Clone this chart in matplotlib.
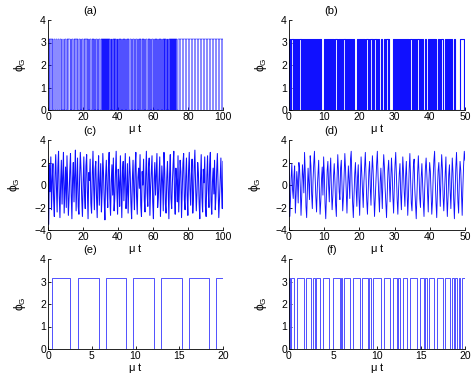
import numpy as np
import matplotlib
matplotlib.use('Agg')
import matplotlib.pyplot as plt

plt.rcParams['font.family'] = ['Liberation Sans', 'DejaVu Sans']
plt.rcParams['mathtext.fontset'] = 'custom'
plt.rcParams['mathtext.rm'] = 'Liberation Sans'
plt.rcParams['mathtext.it'] = 'Liberation Sans'

PI = np.pi

# (a) high pulses (start, end), mu*t in [0, 100]
a_pulses = [
    (0.3, 0.9), (1.2, 2.0), (2.4, 3.1), (3.3, 4.2), (4.6, 5.1), (5.5, 6.4), (6.7, 7.2), (7.8, 8.1),
    (8.9, 9.2), (9.6, 10.3), (10.7, 11.4), (11.6, 12.3), (12.9, 13.2), (13.8, 14.1), (14.9, 15.2),
    (15.6, 16.4), (16.8, 17.3), (17.5, 18.2), (18.8, 19.1), (19.7, 20.0), (20.6, 21.1), (21.4, 22.0),
    (22.3, 22.9), (23.2, 23.7), (24.1, 24.6), (24.9, 25.5), (25.8, 26.2), (26.7, 27.0), (27.6, 27.9),
    (28.3, 28.8), (29.1, 29.5),
    (30.0, 30.2), (30.5, 30.8), (31.0, 31.4), (31.6, 31.9), (32.2, 32.4), (32.8, 33.0), (33.3, 33.5),
    (33.9, 34.1), (34.4, 34.6), (34.9, 35.2), (35.4, 35.7), (35.9, 36.2), (36.4, 36.7), (36.9, 37.2),
    (37.4, 37.7), (37.9, 38.1), (38.4, 38.6), (38.9, 39.1), (39.3, 39.6), (39.8, 40.1), (40.3, 40.5),
    (40.8, 41.0), (41.2, 41.5), (41.7, 41.9), (42.2, 42.4), (42.6, 42.9), (43.1, 43.3), (43.5, 43.8),
    (44.0, 44.2), (44.4, 44.7), (44.9, 45.1), (45.3, 45.5), (45.8, 46.0), (46.2, 46.4), (46.6, 46.8),
    (47.0, 47.2), (47.4, 47.6), (47.8, 48.0),
    (48.5, 48.9), (49.5, 49.8), (50.3, 50.6), (51.2, 51.5), (51.9, 52.4), (52.7, 53.3), (53.6, 54.0),
    (54.5, 54.8), (55.4, 55.7), (56.1, 56.6), (56.9, 57.5), (57.8, 58.2), (58.7, 59.0), (59.6, 59.9),
    (60.3, 60.8), (61.1, 61.6), (61.9, 62.3), (62.7, 63.0), (63.5, 63.8), (64.2, 64.6), (64.9, 65.3),
    (65.6, 66.0), (66.4, 66.7), (67.1, 67.4), (67.8, 68.1), (68.5, 68.8), (69.1, 69.5), (69.8, 70.1),
    (70.4, 70.7), (71.0, 71.3), (71.6, 71.9), (72.2, 72.5), (72.8, 73.1), (73.4, 73.6),
    (74.0, 75.4), (75.7, 77.1), (77.4, 78.8), (79.1, 80.5), (80.8, 82.2), (82.5, 83.9), (84.2, 85.6),
    (85.9, 87.3), (87.6, 89.0), (89.3, 90.7), (91.0, 92.4), (92.7, 94.1), (94.4, 95.8), (96.1, 97.5),
    (97.8, 99.2), (99.5, 101.0),
]

# (b) high pulses, mu*t in [0, 50]
b_pulses = [
    (0.1, 0.3), (0.6, 1.0), (1.2, 1.4), (1.7, 2.1), (2.3, 2.5), (2.8, 3.3), (3.5, 3.7), (4.0, 4.3),
    (4.6, 4.8), (5.0, 5.5), (5.7, 5.9), (6.2, 6.5), (6.8, 7.0), (7.3, 7.7), (7.9, 8.1), (8.4, 8.7),
    (8.9, 9.2), (9.9, 10.2), (10.5, 10.7), (11.0, 11.4), (11.6, 11.8), (12.1, 12.5), (12.7, 12.9),
    (13.2, 13.6), (13.8, 14.0), (14.3, 14.6), (14.9, 15.1), (15.4, 15.8), (16.0, 16.2), (16.5, 16.9),
    (17.1, 17.3), (17.6, 18.0), (18.2, 18.4), (19.3, 19.6), (19.8, 20.2), (20.4, 20.6), (20.9, 21.3),
    (21.5, 21.7), (22.0, 22.4), (22.6, 22.8), (23.1, 23.5), (23.7, 23.9), (24.2, 24.6), (24.8, 25.0),
    (25.3, 25.7), (26.2, 26.5), (27.0, 27.3), (27.6, 28.0), (28.2, 28.4), (29.6, 29.9), (30.1, 30.5),
    (30.7, 30.9), (31.2, 31.6), (31.8, 32.0), (32.3, 32.7), (32.9, 33.1), (33.4, 33.8), (34.0, 34.2),
    (34.5, 34.9), (35.1, 35.4), (35.9, 36.2), (36.5, 36.9), (37.1, 37.4), (37.7, 38.0), (38.6, 38.8),
    (39.5, 39.8), (40.0, 40.4), (40.6, 40.8), (41.1, 41.5), (41.7, 41.9), (42.2, 42.6), (42.8, 43.0),
    (43.3, 43.7), (44.2, 44.5), (44.9, 45.3), (45.5, 45.7), (46.0, 46.3), (47.0, 47.2), (48.7, 49.6),
]

# (c) phi_G samples over mu*t in [0, 100]
c_vals = [
    2.3, -3.5, 1.8, -0.6, 2.5, -2.2, 0.4, 1.9, -1.3, -2.8, 0.9, 2.7, -0.2, -2.4, 1.5, 3.0, -1.0, -2.9, 0.3, 2.2, -1.7, 0.8, 2.9, -2.5, -0.4,
    1.6, -2.0, 2.6, 0.1, -2.7, -1.1, 1.2, 2.8, -0.8, -3.0, 0.6, 2.0, -1.5, 1.0, 3.1, -2.3, -0.1, 2.4, -1.9, -2.6, 0.7, 2.9, 1.3, -1.2, -2.8,
    0.2, 2.5, -0.9, -2.1, 1.7, 2.7, -0.5, -3.0, 1.1, 0.4, 2.3, -1.6, -2.5, 0.9, 3.0, -0.3, -2.2, 1.4, 2.1, -1.0, -2.9, 0.5, 2.6, -1.8, 0.0,
    1.9, -2.4, -0.7, 2.8, 1.0, -1.4, -3.1, 0.8, 2.2, -0.4, -2.0, 1.6, 2.9, -1.1, -2.7, 0.3, 1.8, -0.9, 2.4, -2.3, -1.2, 1.1, 3.0, -0.6, -2.6,
    1.4, 0.2, -1.9, 2.6, -0.2, -2.9, 1.3, 2.1, -1.4, 0.6, 2.8, -2.1, -0.8, 1.9, -2.5, 0.1, 2.5, 1.0, -1.6, -3.0, 0.4, 2.2, -0.5, -2.2, 1.7,
    2.9, -1.0, -2.6, 0.7, 1.5, -0.3, 2.7, -1.8, -2.8, 1.2, 0.0, 2.3, -1.3, -2.4, 0.9, 3.0, -0.7, -1.9, 1.6, 2.4, -2.7, -0.2, 1.3, 2.6, -1.5,
    -3.0, 0.5, 2.0, -0.9, 1.1, 2.8, -2.0, -1.1, 0.8, 2.5, -2.8, -0.5, 1.7, 0.3, -2.3, 2.9, 1.4, -1.7, -2.5, 0.6, 2.1, -0.4, -3.0, 1.0, 2.7,
    -1.2, -2.1, 0.2, 1.8, 3.0, -0.8, -2.6, 1.5, 0.4, -1.5, 2.6, -2.4, -0.1, 2.2, 1.2, -2.9, -0.6, 1.9, 2.8, -1.3, -2.2, 0.7, 2.4, -0.9, -2.7,
    1.3, 2.9, -0.3, -1.8, 0.9, 2.3, -2.5, -1.0, 1.6, 3.1, 0.0, -2.3, -0.7, 2.0, 1.1, -1.6, -3.0, 0.5, 2.7, -1.1, -2.4, 1.4, 0.2, 2.5, -1.9,
    -2.8, 0.8, 2.6, -0.5, -2.0, 1.8, 2.9, -1.4, -2.6, 0.3, 1.5, -0.8, 2.2, -2.2, -1.0, 1.2, 2.8, 0.1, -2.9, -1.3, 0.7, 2.4, -0.6, -2.1, 2.1,
]

# (d) phi_G samples over mu*t in [0, 50]
d_vals = [
    2.3, -2.8, -1.5, 0.6, 1.9, -0.4, -1.2, 0.8, 1.7, -2.5, -0.9, 1.2, 0.3, -1.6, 2.0, 1.4, -0.2, -2.7, -1.0, 1.8, 0.9, -0.7, 2.9, 1.1, -1.9,
    -2.9, -0.5, 1.5, 0.2, -1.3, 2.6, 1.7, -0.8, -2.1, 0.4, 1.9, 3.0, 0.7, -1.1, -2.4, -0.3, 1.0, 2.2, -0.6, -2.6, -1.4, 0.5, 1.6, -0.9, 2.5,
    0.9, -1.7, -3.0, -0.8, 1.3, 2.1, 0.0, -1.5, 1.1, 2.4, -0.4, -2.2, -1.0, 0.8, 1.9, 0.3, -1.8, -2.8, 0.6, 2.7, 1.2, -0.6, -1.3, 1.5, 2.2,
    -0.1, -2.3, -1.1, 0.9, 2.8, 1.4, -0.7, -2.5, -0.2, 1.7, 0.4, -1.2, 2.3, 3.0, 0.5, -1.6, -2.9, -0.9, 1.0, 2.0, -0.3, -1.9, 0.7, 1.8, -1.1,
    -2.7, 0.1, 2.5, 1.0, -0.5, -2.0, 0.3, 1.6, 2.9, 0.6, -1.4, -2.6, -0.6, 1.2, 2.1, -0.2, -1.8, 0.9, 2.6, 1.3, -0.9, -2.8, -1.2, 0.5, 1.9,
    3.0, 0.8, -1.0, -2.4, 0.2, 1.5, -0.4, -2.1, 1.1, 2.7, 1.6, -0.3, -1.7, -2.9, -0.7, 1.3, 2.2, 0.4, -1.5, 0.6, 2.4, 1.0, -1.1, -2.5, -0.1,
    1.8, 2.9, 0.7, -1.3, -2.6, -0.5, 1.0, 1.9, -0.8, -2.2, 0.3, 2.5, 1.2, -0.6, -1.9, 0.8, 2.1, -0.2, -2.7, -1.0, 1.4, 2.8, 0.5, -1.6, -2.3,
    0.0, 1.7, 2.3, -0.4, -1.8, -3.0, -0.9, 1.1, 2.6, 0.9, -1.2, -2.0, 0.6, 1.9, 0.2, -1.5, -2.8, -0.3, 1.5, 2.4, 1.0, -0.8, -2.4, 0.4, 2.0,
    1.2, -0.7, -2.6, -1.4, 0.7, 2.2, 3.0, 0.3, -1.6, -2.9, -0.4, 1.3, 2.0, -0.1, -1.9, 0.8, 2.7, 1.5, -1.0, -2.3, -0.6, 1.0, 2.5, -0.9, -2.8,
    -1.1, 0.9, 1.8, -0.5, -2.1, 0.2, 2.4, 1.1, -1.3, -3.0, -0.8, 1.6, 2.9, 0.6, -1.5, -2.5, 0.4, 2.1, 1.3, -0.7, -2.7, -0.2, 1.7, 3.0, 2.2,
]

# (e) high pulses, mu*t in [0, 20]
e_pulses = [(0.4, 2.55), (3.45, 5.8), (6.6, 8.95), (9.75, 12.1), (12.9, 15.3), (16.1, 18.4), (19.25, 20.5)]

# (f) high pulses, mu*t in [0, 20]
f_pulses = [
    (0.05, 0.15), (0.2, 0.6), (0.9, 1.65), (1.9, 2.5), (2.75, 2.9), (3.1, 3.5), (3.85, 4.6),
    (4.95, 5.75), (5.95, 6.05), (6.2, 6.95), (7.25, 8.1), (8.35, 8.95), (9.1, 9.3), (9.6, 10.4),
    (10.75, 11.5), (11.8, 12.25), (12.4, 12.65), (12.9, 13.4), (13.8, 14.55), (14.85, 15.3),
    (15.45, 15.7), (15.9, 16.45), (16.8, 17.5), (17.75, 18.3), (18.5, 18.7), (18.9, 19.1),
    (19.3, 19.45), (19.65, 20.5),
]


def pulse_signal(pulses):
    t = [0.0]
    y = [0.0]
    for a, b in pulses:
        t += [a, a, b, b]
        y += [0.0, PI, PI, 0.0]
    return t, y


def style_axis(ax, xmax, xticks, ylim, yticks, label):
    ax.set_xlim(0, xmax)
    ax.set_ylim(*ylim)
    ax.set_xticks(xticks)
    ax.set_yticks(yticks)
    ax.spines['top'].set_visible(False)
    ax.spines['right'].set_visible(False)
    for s in ['left', 'bottom']:
        ax.spines[s].set_linewidth(0.6)
    ax.tick_params(direction='in', length=2.5, width=0.6, labelsize=7.5, pad=1.5)
    ax.set_xlabel(r'$\mu$ t', fontsize=8, labelpad=0)
    ax.set_ylabel(r'$\phi_G$', fontsize=8.5, labelpad=9)
    ax.text(0.24, 1.1, label, transform=ax.transAxes, ha='center', va='center', fontsize=8)


fig = plt.figure(figsize=(4.74, 3.77), dpi=100)
W, H = 474, 377
lefts = [48, 289]
widths = [175, 176]
bottoms = [110, 230, 349]
ph = 90
axes = {}
labels = [['(a)', '(b)'], ['(c)', '(d)'], ['(e)', '(f)']]
for r in range(3):
    for c in range(2):
        axes[labels[r][c]] = fig.add_axes([lefts[c] / W, 1 - bottoms[r] / H, widths[c] / W, ph / H])

col = '#1010ff'

ax = axes['(a)']
t, y = pulse_signal(a_pulses)
ax.plot(t, y, color=col, lw=0.35)
style_axis(ax, 100, range(0, 101, 20), (0, 4), range(0, 5), '(a)')

ax = axes['(b)']
t, y = pulse_signal(b_pulses)
ax.plot(t, y, color=col, lw=0.8)
style_axis(ax, 50, range(0, 51, 10), (0, 4), range(0, 5), '(b)')

ax = axes['(c)']
ax.plot(np.linspace(0, 100, len(c_vals)), c_vals, color=col, lw=0.75)
style_axis(ax, 100, range(0, 101, 20), (-4, 4), range(-4, 5, 2), '(c)')

ax = axes['(d)']
ax.plot(np.linspace(0, 50, len(d_vals)), d_vals, color=col, lw=0.65)
style_axis(ax, 50, range(0, 51, 10), (-4, 4), range(-4, 5, 2), '(d)')

ax = axes['(e)']
t, y = pulse_signal(e_pulses)
ax.plot(t, y, color='#5050ff', lw=0.7)
style_axis(ax, 20, range(0, 21, 5), (0, 4), range(0, 5), '(e)')

ax = axes['(f)']
t, y = pulse_signal(f_pulses)
ax.plot(t, y, color='#5050ff', lw=0.7)
style_axis(ax, 20, range(0, 21, 5), (0, 4), range(0, 5), '(f)')

fig.savefig('out.png', dpi=100)
